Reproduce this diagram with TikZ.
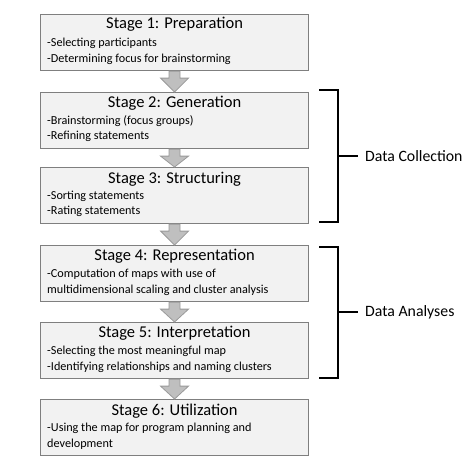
\documentclass[tikz,border=0pt]{standalone}
\usepackage{fontspec}
\setmainfont{Carlito}
\usetikzlibrary{calc}
\definecolor{boxfill}{HTML}{F2F2F2}
\definecolor{boxline}{HTML}{7F7F7F}
\definecolor{arrfill}{HTML}{BFBFBF}
\definecolor{arrline}{HTML}{9A9A9A}
\tikzset{
  stagebox/.style={draw=boxline, fill=boxfill, line width=1.1pt, minimum width=268pt, minimum height=56pt, inner sep=0pt, anchor=north west},
  stitle/.style={font=\fontsize{16.5}{18}\selectfont, inner sep=0pt, anchor=center},
  sitem/.style={font=\fontsize{12.2}{14}\selectfont, inner sep=0pt, anchor=west},
  flowarrow/.style={fill=arrfill, draw=arrline, line width=0.8pt, line join=miter},
  bracket/.style={draw=black, line width=1.3pt},
  group/.style={font=\fontsize{15.8}{18}\selectfont, inner sep=0pt, anchor=west}
}
\newcommand{\flowarr}[2]{%
  \draw[flowarrow] ($(#1.south)+(-5.5,0)$) -- ($(#1.south)+(5.5,0)$) -- ($(#1.south)+(5.5,7)$) -- ($(#1.south)+(14,7)$) -- (#2.north) -- ($(#1.south)+(-14,7)$) -- ($(#1.south)+(-5.5,7)$) -- cycle;}
\begin{document}
\begin{tikzpicture}[x=1pt,y=-1pt]
\useasboundingbox (0,0) rectangle (474,474);
\node[stagebox] (b1) at (40,14) {};
\node[stagebox] (b2) at (40,92) {};
\node[stagebox] (b3) at (40,167) {};
\node[stagebox] (b4) at (40,245) {};
\node[stagebox] (b5) at (40,322) {};
\node[stagebox] (b6) at (40,399) {};

\node[stitle] (t1) at ($(b1.north)+(0,10)$) {Stage 1: Preparation};
\node[sitem] (i1a) at ($(b1.north west)+(7,29)$) {-Selecting participants};
\node[sitem] (i1b) at ($(b1.north west)+(7,45)$) {-Determining focus for brainstorming};

\node[stitle] (t2) at ($(b2.north)+(0,11)$) {Stage 2: Generation};
\node[sitem] (i2a) at ($(b2.north west)+(7,29)$) {-Brainstorming (focus groups)};
\node[sitem] (i2b) at ($(b2.north west)+(7,44)$) {-Refining statements};

\node[stitle] (t3) at ($(b3.north)+(0,12)$) {Stage 3: Structuring};
\node[sitem] (i3a) at ($(b3.north west)+(7,29)$) {-Sorting statements};
\node[sitem] (i3b) at ($(b3.north west)+(7,44)$) {-Rating statements};

\node[stitle] (t4) at ($(b4.north)+(0,11)$) {Stage 4: Representation};
\node[sitem] (i4a) at ($(b4.north west)+(7,29)$) {-Computation of maps with use of};
\node[sitem] (i4b) at ($(b4.north west)+(7,45)$) {multidimensional scaling and cluster analysis};

\node[stitle] (t5) at ($(b5.north)+(0,11)$) {Stage 5: Interpretation};
\node[sitem] (i5a) at ($(b5.north west)+(7,29)$) {-Selecting the most meaningful map};
\node[sitem] (i5b) at ($(b5.north west)+(7,45)$) {-Identifying relationships and naming clusters};

\node[stitle] (t6) at ($(b6.north)+(0,12)$) {Stage 6: Utilization};
\node[sitem] (i6a) at ($(b6.north west)+(7,29)$) {-Using the map for program planning and};
\node[sitem] (i6b) at ($(b6.north west)+(7,45)$) {development};

\flowarr{b1}{b2}
\flowarr{b2}{b3}
\flowarr{b3}{b4}
\flowarr{b4}{b5}
\flowarr{b5}{b6}

\coordinate (c1t) at (319,90);
\coordinate (c1b) at (319,222);
\coordinate (c1m) at (338,156);
\draw[bracket] (c1t) -- (338,90) -- (338,222) -- (c1b);
\node[group] (g1) at (365,156) {Data Collection};
\draw[bracket] (c1m) -- (g1.west -| 358,0);

\coordinate (c2t) at (319,247);
\coordinate (c2b) at (319,378);
\coordinate (c2m) at (338,312);
\draw[bracket] (c2t) -- (338,247) -- (338,378) -- (c2b);
\node[group] (g2) at (365,312) {Data Analyses};
\draw[bracket] (c2m) -- (g2.west -| 358,0);
\end{tikzpicture}
\end{document}
